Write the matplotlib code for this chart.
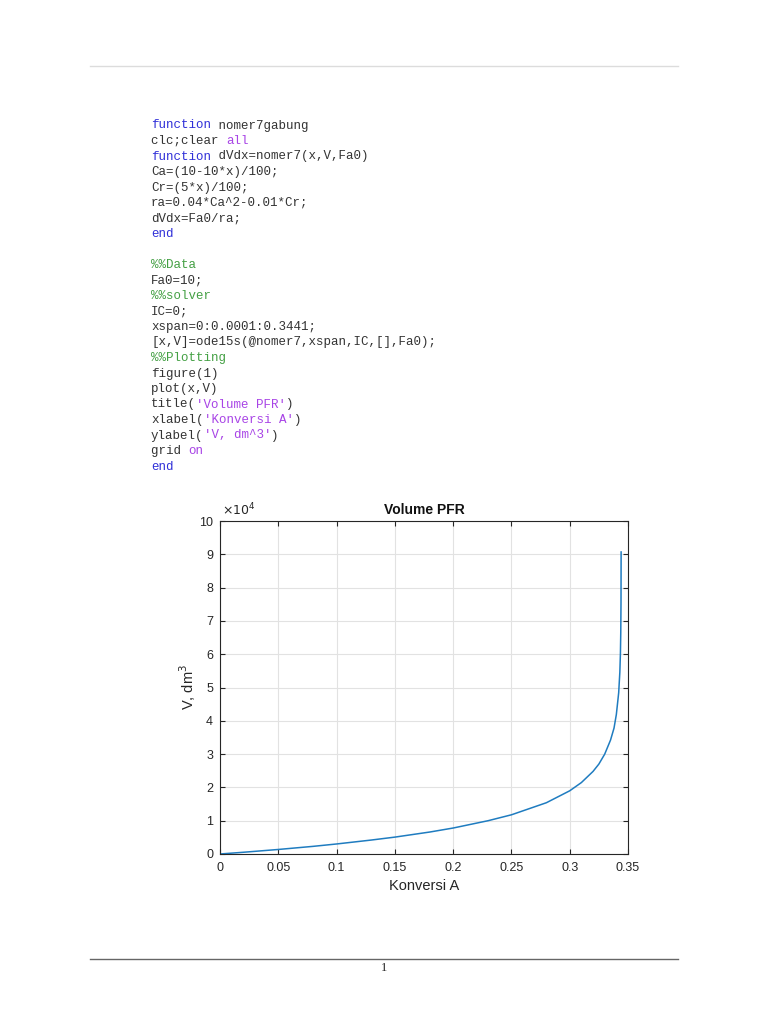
import matplotlib
matplotlib.use("Agg")
import matplotlib.pyplot as plt
from matplotlib.lines import Line2D
from matplotlib.ticker import FixedLocator

# ---------------- data ----------------
konversi = [0.0, 0.02, 0.05, 0.08, 0.10, 0.13, 0.15, 0.18, 0.20, 0.23, 0.25,
            0.28, 0.30, 0.31, 0.32, 0.325, 0.33, 0.335, 0.338, 0.340, 0.342,
            0.343, 0.3435, 0.3438, 0.3440, 0.3441]
volume = [0, 520, 1360, 2300, 3010, 4200, 5070, 6600, 7800, 10000, 11770,
          15400, 18980, 21450, 24800, 27000, 29980, 34200, 37800, 41900, 48400,
          54600, 60300, 66600, 75600, 90700]

x_ticks = [0, 0.05, 0.1, 0.15, 0.2, 0.25, 0.3, 0.35]
x_tick_labels = ["0", "0.05", "0.1", "0.15", "0.2", "0.25", "0.3", "0.35"]
y_ticks = [0, 10000, 20000, 30000, 40000, 50000, 60000, 70000, 80000, 90000, 100000]
y_tick_labels = ["0", "1", "2", "3", "4", "5", "6", "7", "8", "9", "10"]

code_lines = [
    [("function", "kw"), (" nomer7gabung", "n")],
    [("clc;clear ", "n"), ("all", "str")],
    [("function", "kw"), (" dVdx=nomer7(x,V,Fa0)", "n")],
    [("Ca=(10-10*x)/100;", "n")],
    [("Cr=(5*x)/100;", "n")],
    [("ra=0.04*Ca^2-0.01*Cr;", "n")],
    [("dVdx=Fa0/ra;", "n")],
    [("end", "kw")],
    [],
    [("%%Data", "cm")],
    [("Fa0=10;", "n")],
    [("%%solver", "cm")],
    [("IC=0;", "n")],
    [("xspan=0:0.0001:0.3441;", "n")],
    [("[x,V]=ode15s(@nomer7,xspan,IC,[],Fa0);", "n")],
    [("%%Plotting", "cm")],
    [("figure(1)", "n")],
    [("plot(x,V)", "n")],
    [("title(", "n"), ("'Volume PFR'", "str"), (")", "n")],
    [("xlabel(", "n"), ("'Konversi A'", "str"), (")", "n")],
    [("ylabel(", "n"), ("'V, dm^3'", "str"), (")", "n")],
    [("grid ", "n"), ("on", "str")],
    [("end", "kw")],
]

colors = {"kw": "#3030d8", "str": "#a844e6", "cm": "#44a044", "n": "#333333"}

# ---------------- figure ----------------
W, H = 768, 1024
fig = plt.figure(figsize=(W / 100, H / 100), dpi=100)
fig.patch.set_facecolor("white")


def fx(px):
    return px / W


def fy(py):
    return 1 - py / H


# page rules
fig.add_artist(Line2D([fx(90), fx(678)], [fy(66), fy(66)], color="#dcdcdc", lw=1.0))
fig.add_artist(Line2D([fx(90), fx(678)], [fy(959), fy(959)], color="#666666", lw=1.0))
fig.text(fx(384), fy(968), "1", family="Liberation Serif", fontsize=9,
         ha="center", va="center", color="#222222")

# code block
code_fs = 9
char_w = 0.6 * code_fs * 100 / 72
for i, segs in enumerate(code_lines):
    y = 125.5 + 15.5 * i
    col = 0
    for txt, kind in segs:
        fig.text(fx(151 + col * char_w), fy(y), txt, family="Liberation Mono",
                 fontsize=code_fs, ha="left", va="center", color=colors[kind])
        col += len(txt)

# plot
ax = fig.add_axes([fx(220), fy(854), fx(628) - fx(220), (854 - 521) / H])
ax.plot(konversi, volume, color="#1f7cc0", lw=1.1)
ax.set_xlim(0, 0.35)
ax.set_ylim(0, 100000)
ax.xaxis.set_major_locator(FixedLocator(x_ticks))
ax.set_xticklabels(x_tick_labels)
ax.yaxis.set_major_locator(FixedLocator(y_ticks))
ax.set_yticklabels(y_tick_labels)
ax.grid(True, color="#e2e2e2", lw=0.8)
ax.set_axisbelow(True)
ax.tick_params(direction="in", top=True, right=True, length=3.5, width=0.8,
               labelsize=9, colors="#262626")
ax.tick_params(axis="x", pad=6)
ax.tick_params(axis="y", pad=5)
for s in ax.spines.values():
    s.set_color("#262626")
    s.set_linewidth(0.8)

tfont = "Liberation Sans"
for lab in ax.get_xticklabels() + ax.get_yticklabels():
    lab.set_family(tfont)

ax.set_title("Volume PFR", family=tfont, fontsize=10, fontweight="bold",
             color="#111111", pad=5)
ax.set_xlabel("Konversi A", family=tfont, fontsize=10.5, color="#262626", labelpad=3)
ax.set_ylabel("V, dm$^3$", family=tfont, fontsize=10.5, color="#262626", labelpad=1)
ax.text(0.005, 1.008, r"$\times10^4$", transform=ax.transAxes, fontsize=9,
        ha="left", va="bottom", color="#262626")

fig.savefig("out.png", dpi=100, facecolor="white")
